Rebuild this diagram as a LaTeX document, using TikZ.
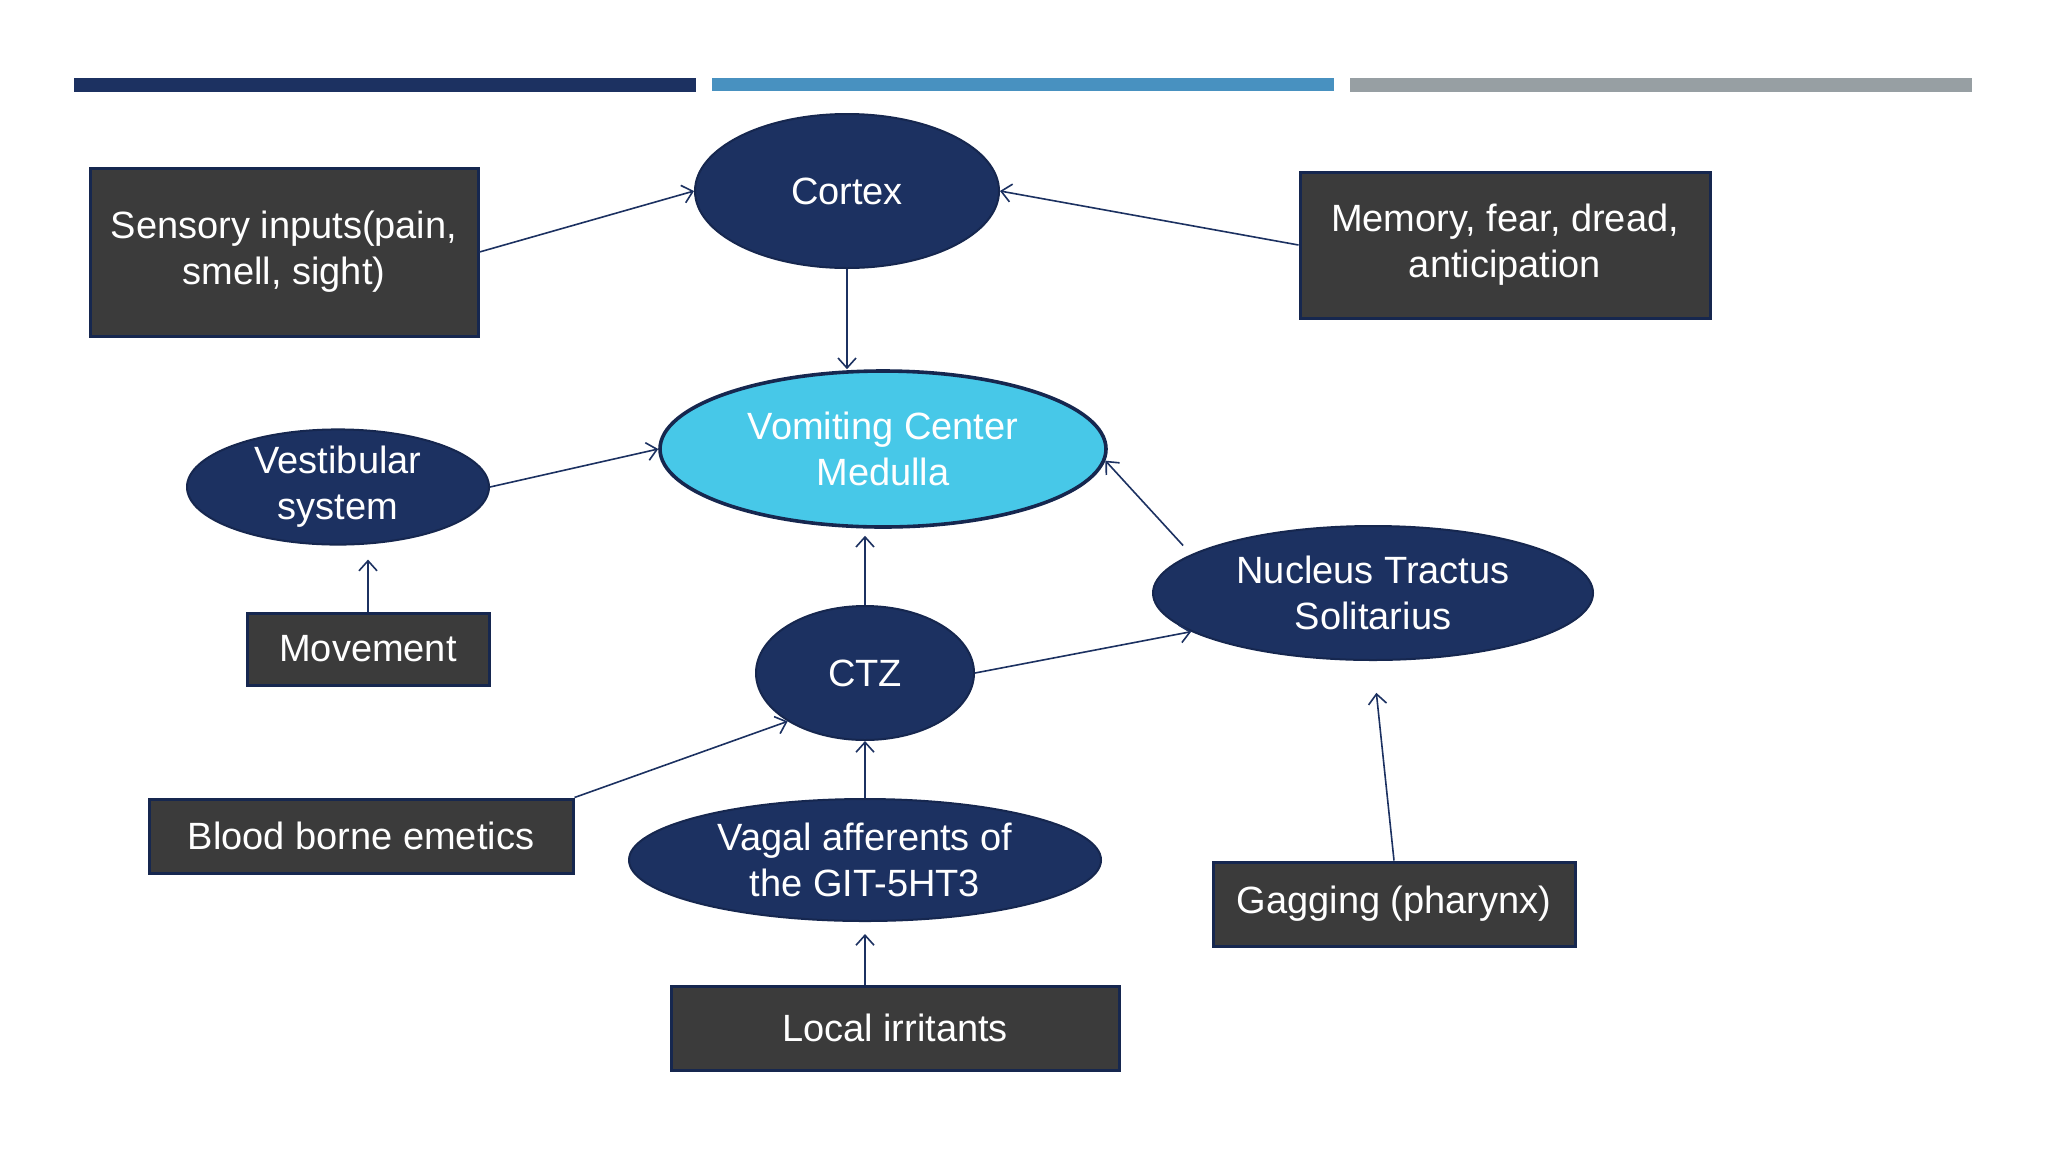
\documentclass[tikz,border=0pt]{standalone}
\usepackage{fontspec}
\setmainfont{Liberation Sans}
\usepackage{tikz}
\usetikzlibrary{shapes,arrows.meta,positioning,calc}
\definecolor{navy}{HTML}{1C3161}
\definecolor{navyline}{HTML}{16274F}
\definecolor{cyanfill}{HTML}{47C8E8}
\definecolor{boxgrey}{HTML}{3B3B3B}
\definecolor{barblue}{HTML}{4891C0}
\definecolor{bargrey}{HTML}{979FA3}

\begin{document}
\begin{tikzpicture}[x=0.5pt,y=-0.5pt,
    txt/.style={text=white,align=center,inner sep=0pt,font=\fontsize{19}{23}\selectfont},
    blob/.style={txt,ellipse,draw=navyline,line width=1pt,fill=navy},
    greybox/.style={txt,rectangle,draw=navyline,line width=1.5pt,fill=boxgrey},
    link/.style={-{Straight Barb[length=5pt,width=9pt]},navy,line width=0.8pt}]
      \useasboundingbox (0,0) rectangle (2048,1152);
      \fill[white] (0,0) rectangle (2048,1152);
      % header bars
      \fill[navy] (74,78) rectangle (696,92);
      \fill[barblue] (712,78) rectangle (1334,91);
      \fill[bargrey] (1350,78) rectangle (1972,92);
      % nodes
      \node[greybox,minimum width=194pt,minimum height=84pt] (sensory) at (284,252) {Sensory inputs(pain,\\smell, sight)};
      \node[blob,minimum width=152pt,minimum height=77pt] (cortex) at (847,191) {Cortex};
      \node[greybox,minimum width=205pt,minimum height=73pt] (memory) at (1505,245) {Memory, fear, dread,\\anticipation};
      \node[blob,fill=cyanfill,line width=1.8pt,minimum width=223pt,minimum height=78pt] (vc) at (883,449) {Vomiting Center\\Medulla};
      \node[blob,minimum width=151pt,minimum height=53pt] (vest) at (338,487) {Vestibular\\system};
      \node[greybox,minimum width=121pt,minimum height=36pt] (move) at (368,649) {Movement};
      \node[blob,minimum width=109pt,minimum height=67pt] (ctz) at (865,673) {CTZ};
      \node[blob,minimum width=220pt,minimum height=67pt] (nts) at (1373,593) {Nucleus Tractus\\Solitarius};
      \node[greybox,minimum width=212pt,minimum height=37pt] (blood) at (361,836) {Blood borne emetics};
      \node[blob,minimum width=236pt,minimum height=61pt] (vagal) at (865,860) {Vagal afferents of\\the GIT-5HT3};
      \node[greybox,minimum width=181pt,minimum height=42pt] (gag) at (1394,904) {Gagging (pharynx)};
      \node[greybox,minimum width=224pt,minimum height=42pt] (local) at (895,1028) {Local irritants};
      % connectors
      \draw[link] (sensory.east) -- (cortex.west);
      \draw[link] (memory.west) -- (cortex.east);
      \draw[link] (cortex.south) -- (cortex.south |- vc.north);
      \draw[link] (vest.east) -- (vc.west);
      \draw[link,shorten >=7pt] (move.north) -- (move.north |- vest.south);
      \draw[link,shorten >=3.5pt] (ctz.north) -- (ctz.north |- vc.south);
      \draw[link,shorten <=6pt] (nts.168) -- (vc.-3);
      \draw[link] (ctz.east) -- (nts.192);
      \draw[link] (blood.north east) -- (ctz.212);
      \draw[link] (vagal.north) -- (ctz.south);
      \draw[link,shorten >=6pt] (vagal.south |- local.north) -- (vagal.south);
      \draw[link,shorten >=16pt] (gag.north) -- (nts.south);
\end{tikzpicture}
\end{document}
